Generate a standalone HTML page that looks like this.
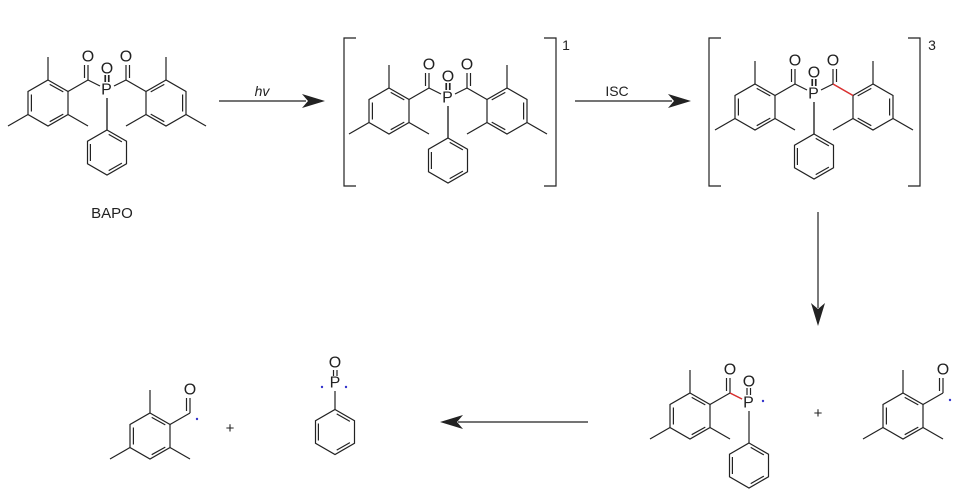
<!DOCTYPE html>
<html><head><meta charset="utf-8"><style>
html,body{margin:0;padding:0;background:#fff;}
svg{display:block;}
text{font-family:"Liberation Sans",sans-serif;fill:#222;}
</style></head><body>
<svg width="961" height="497" viewBox="0 0 961 497" xmlns="http://www.w3.org/2000/svg">
<defs>
<g id="half" stroke="#222" stroke-width="1.2" fill="none">
  <polygon points="48,80 68,91.5 68,114.5 48,126 28,114.5 28,91.5"/>
  <line x1="31.4" y1="94.5" x2="31.4" y2="111.5"/>
  <line x1="49.7" y1="84.4" x2="63.3" y2="91.9"/>
  <line x1="63.3" y1="114.1" x2="49.7" y2="121.7"/>
  <line x1="48" y1="80" x2="48" y2="57"/>
  <line x1="28" y1="114.5" x2="8" y2="126"/>
  <line x1="68" y1="114.5" x2="88" y2="126"/>
  <line x1="68" y1="91.5" x2="88" y2="80"/>
  <line x1="88" y1="80" x2="88" y2="65"/>
  <line x1="84.5" y1="78" x2="84.5" y2="65"/>
</g>
<g id="ph" stroke="#222" stroke-width="1.2" fill="none">
  <polygon points="107,130 126.5,141.25 126.5,163.75 107,175 87.5,163.75 87.5,141.25"/>
  <line x1="90.4" y1="144" x2="90.4" y2="161"/>
  <line x1="108.7" y1="134.4" x2="121.9" y2="141.9"/>
  <line x1="121.9" y1="163.1" x2="108.7" y2="170.6"/>
</g>
<g id="core" stroke="#222" stroke-width="1.2" fill="none">
  <line x1="88" y1="80" x2="100" y2="86"/>
  <line x1="105" y1="82" x2="105" y2="75"/>
  <line x1="108.5" y1="82" x2="108.5" y2="75"/>
  <line x1="107" y1="98" x2="107" y2="130"/>
</g>
<g id="bapo">
  <use href="#half"/>
  <use href="#half" transform="translate(214,0) scale(-1,1)"/>
  <use href="#core"/>
  <use href="#core" transform="translate(214,0) scale(-1,1)"/>
  <use href="#ph"/>
</g>
</defs>

<!-- BAPO -->
<use href="#bapo"/>
<g font-size="16" text-anchor="middle" dominant-baseline="central">
  <text x="88" y="57">O</text><text x="126" y="57">O</text>
  <text x="107" y="69">O</text><text x="106.5" y="90">P</text>
</g>
<text x="112" y="218" font-size="15" text-anchor="middle">BAPO</text>

<!-- arrow hv -->
<line x1="219" y1="101" x2="306" y2="101" stroke="#222" stroke-width="1.2"/>
<polygon points="325,101 302,94 308,101 302,108" fill="#222"/>
<text x="262" y="96" font-size="14" font-style="italic" text-anchor="middle">hv</text>

<!-- singlet -->
<g transform="translate(341,8)">
  <use href="#bapo"/>
  <g font-size="16" text-anchor="middle" dominant-baseline="central">
    <text x="88" y="57">O</text><text x="126" y="57">O</text>
    <text x="107" y="69">O</text><text x="106.5" y="90">P</text>
  </g>
</g>
<g stroke="#222" stroke-width="1.2" fill="none">
  <polyline points="356,38 344,38 344,186 356,186"/>
  <polyline points="544,38 556,38 556,186 544,186"/>
  <polyline points="721,38 709,38 709,186 721,186"/>
  <polyline points="908,38 920,38 920,186 908,186"/>
</g>
<text x="566" y="50" font-size="14" text-anchor="middle">1</text>
<text x="932" y="50" font-size="14" text-anchor="middle">3</text>

<!-- ISC arrow -->
<line x1="575" y1="101" x2="672" y2="101" stroke="#222" stroke-width="1.2"/>
<polygon points="691,101 668,94 674,101 668,108" fill="#222"/>
<text x="617" y="96" font-size="14" text-anchor="middle">ISC</text>

<!-- triplet -->
<g transform="translate(707,4)">
  <use href="#bapo"/>
  <line x1="146" y1="91.5" x2="126" y2="80" stroke="#e03030" stroke-width="1.3"/>
  <g font-size="16" text-anchor="middle" dominant-baseline="central">
    <text x="88" y="57">O</text><text x="126" y="57">O</text>
    <text x="107" y="69">O</text><text x="106.5" y="90">P</text>
  </g>
</g>

<!-- down arrow -->
<line x1="818" y1="212" x2="818" y2="308" stroke="#222" stroke-width="1.2"/>
<polygon points="818,326 811,303 818,309 825,303" fill="#222"/>

<!-- bottom right acylphosphinoyl radical -->
<g transform="translate(642,313)">
  <use href="#half"/>
  <use href="#core"/>
  <use href="#ph"/>
  <line x1="88" y1="80" x2="100" y2="86" stroke="#e03030" stroke-width="1.3"/>
  <g font-size="16" text-anchor="middle" dominant-baseline="central">
    <text x="88" y="57">O</text>
    <text x="107" y="69">O</text><text x="106.5" y="90">P</text>
  </g>
  <circle cx="121" cy="88" r="1.2" fill="#33c"/>
</g>
<text x="818" y="418" font-size="15" text-anchor="middle">+</text>

<!-- bottom right aldehyde radical -->
<g transform="translate(855,313)">
  <use href="#half"/>
  <text x="88" y="57" font-size="16" text-anchor="middle" dominant-baseline="central">O</text>
  <circle cx="95" cy="87" r="1.2" fill="#33c"/>
</g>

<!-- left arrow -->
<line x1="588" y1="422" x2="458" y2="422" stroke="#222" stroke-width="1.2"/>
<polygon points="440,422 463,415 457,422 463,429" fill="#222"/>

<!-- bottom left aldehyde radical -->
<g transform="translate(102,333)">
  <use href="#half"/>
  <text x="88" y="57" font-size="16" text-anchor="middle" dominant-baseline="central">O</text>
  <circle cx="95" cy="86" r="1.2" fill="#33c"/>
</g>
<text x="230" y="433" font-size="15" text-anchor="middle">+</text>

<!-- phosphinoyl radical -->
<g stroke="#222" stroke-width="1.2">
  <line x1="333.5" y1="376" x2="333.5" y2="370"/>
  <line x1="337" y1="376" x2="337" y2="370"/>
  <line x1="335" y1="391" x2="335" y2="410"/>
</g>
<use href="#ph" transform="translate(228,279.5)"/>
<g font-size="16" text-anchor="middle" dominant-baseline="central">
  <text x="335" y="363">O</text><text x="335" y="383">P</text>
</g>
<circle cx="322" cy="387" r="1.2" fill="#33c"/>
<circle cx="346" cy="387" r="1.2" fill="#33c"/>
</svg>
</body></html>
